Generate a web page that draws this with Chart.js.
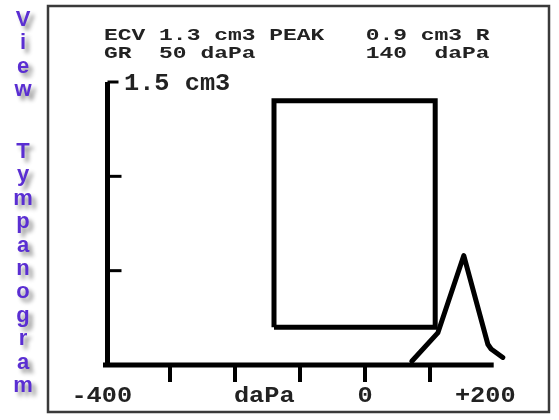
<!DOCTYPE html>
<html lang="en">
<head>
  <meta charset="UTF-8">
  <title>View Tympanogram</title>
  <script src="https://cdn.jsdelivr.net/npm/chart.js"></script>
  <style>
    body {
      margin: 0;
      padding: 0;
      background-color: #fff;
    }
    #wrap {
      width: 559px;
      height: 420px;
    }
  </style>
</head>
<body>
  <div id="wrap"><canvas id="tymp" width="559" height="420"></canvas></div>
  <script>
    // tympanogram trace (pressure in daPa, compliance in cm3)
    const pressure = [72, 112, 152, 189, 194, 212];
    const compliance = [0.02, 0.17, 0.58, 0.11, 0.085, 0.04];

    // normal region box
    const boxPressure = [-140, -140, 108, 108, -140];
    const boxCompliance = [0.2, 1.4, 1.4, 0.2, 0.2];

    const yTicks = [0.5, 1.0, 1.5];
    const xTicks = [-300, -200, -100, 0, 100];
    const xTickLabels = ['-400', 'daPa', '0', '+200'];
    const xTickLabelAt = [-405, -155, 0, 185];
    const yTopLabel = '1.5 cm3';
    const headerLines = ['ECV 1.3 cm3 PEAK   0.9 cm3 R', 'GR  50 daPa        140  daPa'];
    const sideWords = ['View', 'Tympanogram'];

    function stretchedText(ctx, text, x, y, sx, align) {
      ctx.save();
      ctx.translate(x, y);
      ctx.scale(sx, 1);
      ctx.textAlign = align || 'left';
      ctx.fillText(text, 0, 0);
      ctx.restore();
    }

    const tympDecor = {
      id: 'tympDecor',
      beforeDatasetsDraw(chart) {
        const ctx = chart.ctx;
        const xs = chart.scales.x, ys = chart.scales.y;
        const x0 = xs.getPixelForValue(-400);
        const xEnd = xs.getPixelForValue(198);
        const y0 = ys.getPixelForValue(0);
        const yTop = ys.getPixelForValue(1.5);

        ctx.save();
        // outer frame
        ctx.strokeStyle = '#3a3a3a';
        ctx.lineWidth = 2.5;
        ctx.strokeRect(48, 6, 501, 406);

        // axes
        ctx.strokeStyle = '#000';
        ctx.lineCap = 'butt';
        ctx.lineWidth = 5;
        ctx.beginPath();
        ctx.moveTo(x0 + 2.5, yTop);
        ctx.lineTo(x0 + 2.5, y0 + 2.5);
        ctx.moveTo(x0 - 2, y0);
        ctx.lineTo(xEnd, y0);
        ctx.stroke();

        // y ticks point inward
        ctx.lineWidth = 3;
        yTicks.forEach(v => {
          const py = ys.getPixelForValue(v);
          const len = v === 1.5 ? 11 : 14;
          ctx.beginPath();
          ctx.moveTo(x0 + 2.5, py);
          ctx.lineTo(x0 + 2.5 + len, py);
          ctx.stroke();
        });

        // x ticks point down
        ctx.lineWidth = 4;
        xTicks.forEach(v => {
          const px = xs.getPixelForValue(v);
          ctx.beginPath();
          ctx.moveTo(px, y0);
          ctx.lineTo(px, y0 + 17);
          ctx.stroke();
        });

        // texts
        ctx.fillStyle = '#222';
        ctx.textBaseline = 'alphabetic';
        ctx.font = 'bold 17px "Liberation Mono", monospace';
        stretchedText(ctx, headerLines[0], 104, 40, 1.35);
        stretchedText(ctx, headerLines[1], 104, 57.5, 1.35);

        ctx.font = 'bold 23px "Liberation Mono", monospace';
        stretchedText(ctx, yTopLabel, 124, 90, 1.1);

        ctx.font = 'bold 22px "Liberation Mono", monospace';
        xTickLabels.forEach((t, i) => {
          stretchedText(ctx, t, xs.getPixelForValue(xTickLabelAt[i]), 402, 1.15, 'center');
        });

        // vertical side title
        ctx.font = 'bold 22px "Liberation Sans", Arial, sans-serif';
        ctx.textAlign = 'center';
        ctx.fillStyle = '#5a2ed2';
        ctx.shadowColor = 'rgba(0,0,0,0.45)';
        ctx.shadowBlur = 4;
        ctx.shadowOffsetX = 4;
        ctx.shadowOffsetY = 4;
        const starts = [26, 158];
        sideWords.forEach((w, k) => {
          [...w].forEach((ch, i) => {
            ctx.fillText(ch, 23, starts[k] + i * 23.4);
          });
        });
        ctx.restore();
      }
    };

    new Chart(document.getElementById('tymp'), {
      type: 'line',
      data: {
        datasets: [
          {
            label: 'Normal region',
            data: boxPressure.map((p, i) => ({ x: p, y: boxCompliance[i] })),
            borderColor: '#000',
            borderWidth: 5,
            pointRadius: 0,
            tension: 0,
            borderJoinStyle: 'miter',
            fill: false
          },
          {
            label: 'Tympanogram',
            data: pressure.map((p, i) => ({ x: p, y: compliance[i] })),
            borderColor: '#000',
            borderWidth: 5,
            pointRadius: 0,
            tension: 0,
            borderJoinStyle: 'round',
            borderCapStyle: 'round',
            clip: false,
            fill: false
          }
        ]
      },
      options: {
        responsive: false,
        animation: false,
        layout: { padding: { left: 105, right: 64, top: 82, bottom: 55 } },
        scales: {
          x: { type: 'linear', min: -400, max: 200, display: false },
          y: { type: 'linear', min: 0, max: 1.5, display: false }
        },
        plugins: {
          legend: { display: false },
          tooltip: { enabled: false }
        }
      },
      plugins: [tympDecor]
    });
  </script>
</body>
</html>
